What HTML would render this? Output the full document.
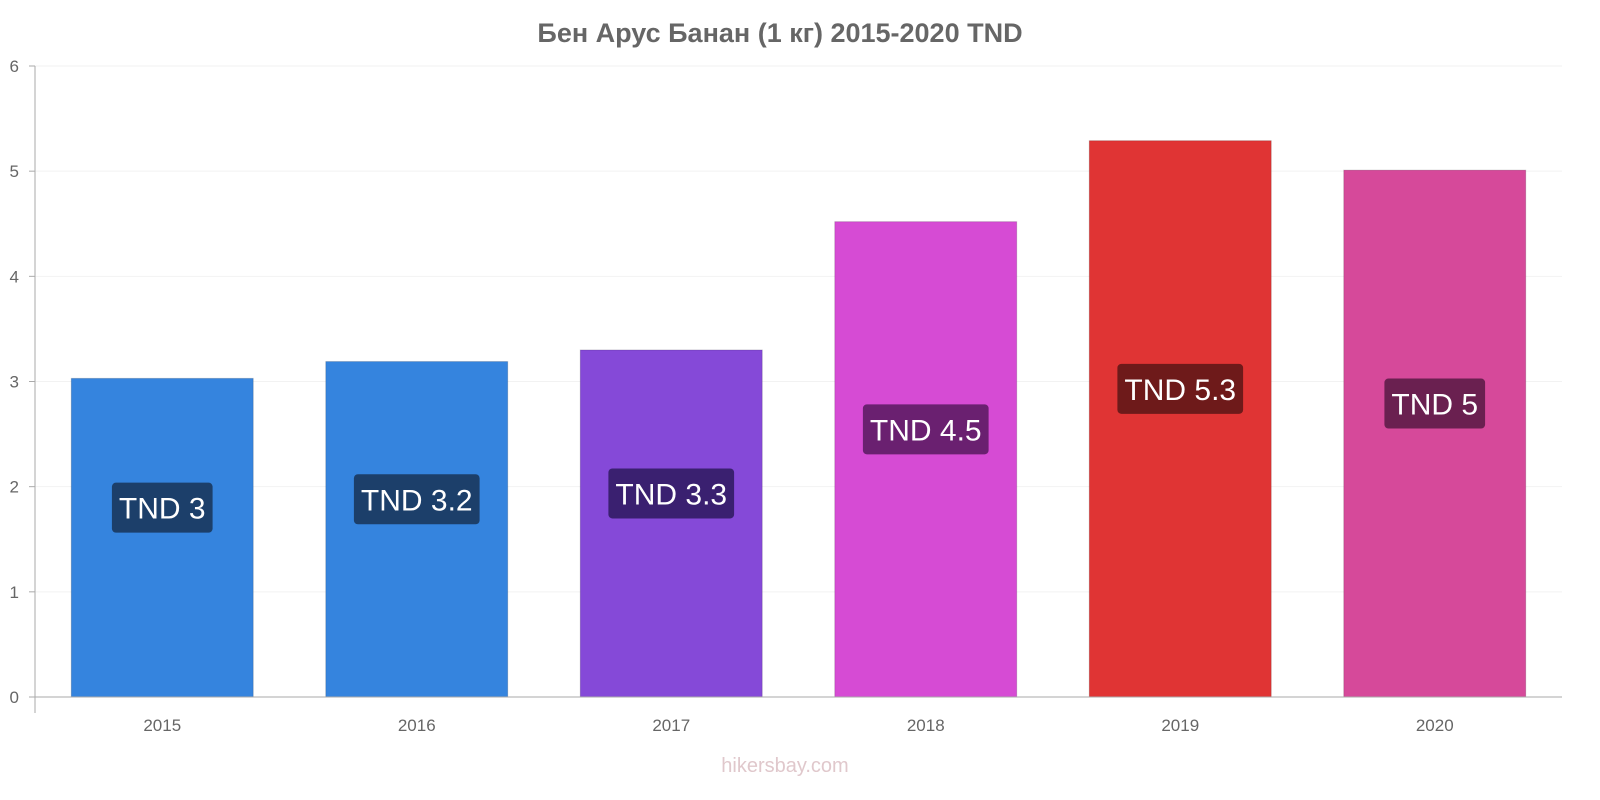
<!DOCTYPE html>
<html><head><meta charset="utf-8"><style>
html,body{margin:0;padding:0;background:#fff;width:1600px;height:800px;overflow:hidden}
svg{font-family:"Liberation Sans",sans-serif}
</style></head><body>
<svg id="chart" width="1600" height="800">
<text x="780" y="42" text-anchor="middle" font-size="27" font-weight="bold" fill="#666">Бен Арус Банан (1 кг) 2015-2020 TND</text>
<g id="grid"></g><g id="bars"></g><g id="labels"></g><g id="axes"></g>
<text x="785" y="772" text-anchor="middle" font-size="20" fill="#e0c8cc">hikersbay.com</text>
</svg>
<script>
const categories=["2015","2016","2017","2018","2019","2020"];
const values=[3.03,3.19,3.3,4.52,5.29,5.01];
const valueLabels=["TND 3","TND 3.2","TND 3.3","TND 4.5","TND 5.3","TND 5"];
const yTicks=[0,1,2,3,4,5,6];
const colors=["#3584de","#3584de","#8549d8","#d64bd4","#e03434","#d6499a"];
const labelBg=["#1c3f6a","#1c3f6a","#3a2070","#6a2070","#6e1a1a","#6a2050"];
const NS="http://www.w3.org/2000/svg";
const x0=35,x1=1562,yBase=697,yTop=66;
const y=v=>yBase-(v/6)*(yBase-yTop);
const bw=(x1-x0)/categories.length;
const xc=i=>x0+bw*(i+0.5);
function mk(t,a,p){const e=document.createElementNS(NS,t);for(const k in a)e.setAttribute(k,a[k]);p.appendChild(e);return e;}
const grid=document.getElementById('grid'),axes=document.getElementById('axes'),bars=document.getElementById('bars'),labels=document.getElementById('labels');
yTicks.forEach(t=>{
 const l=mk('line',{x1:x0,x2:x1,y1:y(t),y2:y(t),stroke:'#f2f2f2'},grid);
 
 
 const tx=mk('text',{x:19,y:y(t)+6,'text-anchor':'end','font-size':17,fill:'#666'},axes);
 tx.textContent=t;
 
 
 mk('line',{x1:x0-6,x2:x0,y1:y(t),y2:y(t),stroke:'#aaa'},axes);
});
mk('line',{x1:x0,x2:x0,y1:yTop,y2:yBase+16,stroke:'#aaa'},axes);
mk('line',{x1:x0,x2:x1,y1:yBase,y2:yBase,stroke:'#aaa'},axes);
categories.forEach((c,i)=>{
 const r=mk('rect',{x:xc(i)-91,y:y(values[i]),width:182,height:yBase-y(values[i]),fill:colors[i],stroke:'rgba(0,0,0,0.15)'},bars);
 
 
 const t=mk('text',{x:xc(i),y:yBase+34,'text-anchor':'middle','font-size':17,fill:'#666'},axes);
 t.textContent=c;
 
 
 const ly=(y(values[i])+yBase)/2-30;
 const bg=mk('rect',{y:ly-25,height:50,rx:4,fill:labelBg[i]},labels);
 
 
 const lt=mk('text',{x:xc(i),y:ly+11,'text-anchor':'middle','font-size':30,fill:'#fff'},labels);
 lt.textContent=valueLabels[i];
 
 
 let w=valueLabels[i].length*15.5+14;
 try{const m=lt.getComputedTextLength();if(m>0)w=m+14;}catch(e){}
 bg.setAttribute('x',xc(i)-w/2);
 bg.setAttribute('width',w);
});
</script>
</body></html>
